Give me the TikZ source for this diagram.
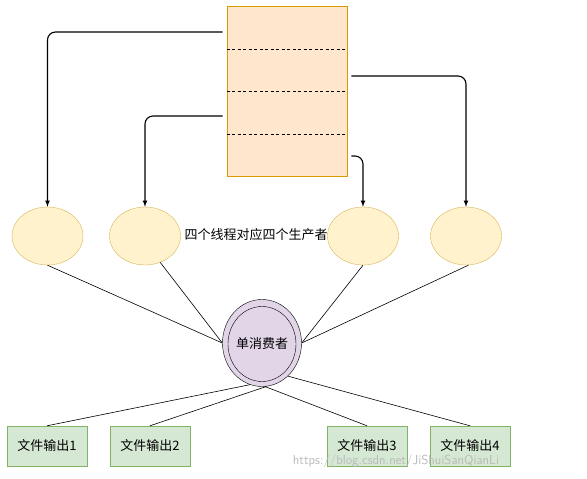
\documentclass[tikz,border=0pt]{standalone}
\usepackage{fontspec}
\setmainfont{Noto Sans CJK SC}
\usetikzlibrary{shapes.geometric}
\tikzset{>=latex}
\definecolor{bufFill}{HTML}{FFE6CC}
\definecolor{bufLine}{HTML}{D79B00}
\definecolor{prodFill}{HTML}{FFF2CC}
\definecolor{prodLine}{HTML}{D6B656}
\definecolor{consFill}{HTML}{E1D5E7}
\definecolor{fileFill}{HTML}{D5E8D4}
\definecolor{fileLine}{HTML}{82B366}
\tikzset{
    producer/.style={ellipse,draw=prodLine,fill=prodFill,minimum width=71pt,minimum height=58pt,inner sep=0pt},
    filebox/.style={rectangle,draw=fileLine,fill=fileFill,minimum width=80pt,minimum height=40pt,inner sep=0pt,font=\fontsize{13}{15}\selectfont},
    feed/.style={->,line width=1.1pt,rounded corners=8pt,shorten <=4pt},
    link/.style={line width=0.6pt}
}

\begin{document}
\begin{tikzpicture}[x=1pt,y=-1pt]
            \useasboundingbox (0,0) rectangle (587,479);
            % buffer
            \node[rectangle,draw=bufLine,fill=bufFill,line width=0.8pt,minimum width=120pt,minimum height=170pt] (buf) at (287,91) {};
            \foreach \y in {49,91,134}
                \draw[dash pattern=on 3pt off 2.5pt,line width=0.6pt,shorten >=2pt] (buf.west |- 0,\y) -- (buf.east |- 0,\y);
            % producers
            \node[producer] (p1) at (47.5,236) {};
            \node[producer] (p2) at (145,236) {};
            \node[producer] (p3) at (363,236) {};
            \node[producer] (p4) at (466,236) {};
            \node[font=\fontsize{13}{15}\selectfont] (plabel) at (256,235) {四个线程对应四个生产者};
            % consumer
            \node[ellipse,draw,fill=consFill,minimum width=79pt,minimum height=87pt,inner sep=0pt] (cons) at (262,343) {};
            \node[ellipse,draw,fill=consFill,minimum width=68pt,minimum height=75pt,inner sep=0pt,
                label={[font=\fontsize{13}{15}\selectfont]center:单消费者}] (consin) at (262,344) {};
            % outputs
            \node[filebox] (f1) at (47,446) {文件输出1};
            \node[filebox] (f2) at (150,446) {文件输出2};
            \node[filebox] (f3) at (367,446) {文件输出3};
            \node[filebox] (f4) at (470,446) {文件输出4};
            % buffer to producers
            \draw[feed] (buf.west |- 0,32) -| (p1);
            \draw[feed] (buf.west |- 0,116) -| (p2);
            \draw[feed] (buf.east |- 0,76) -| (p4);
            \draw[feed] (buf.east |- 0,156) -| (p3);
            % producers to consumer
            \draw[link] (p1.south) -- (cons.west);
            \draw[link] (p2.300) -- (cons.west);
            \draw[link] (p3.south) -- (cons.east);
            \draw[link] (p4.275) -- (cons.east);
            % consumer to outputs
            \draw[link] (cons.254) -- (f1.north);
            \draw[link] (cons.276) -- (f2.north);
            \draw[link] (cons.274) -- (f3.north);
            \draw[link] (cons.308) -- (f4.north);
            \node[text=gray!55,font=\fontsize{13}{15}\selectfont\sffamily] (mark) at (396,461) {https://blog.csdn.net/JiShuiSanQianLi};
        \end{tikzpicture}
\end{document}
